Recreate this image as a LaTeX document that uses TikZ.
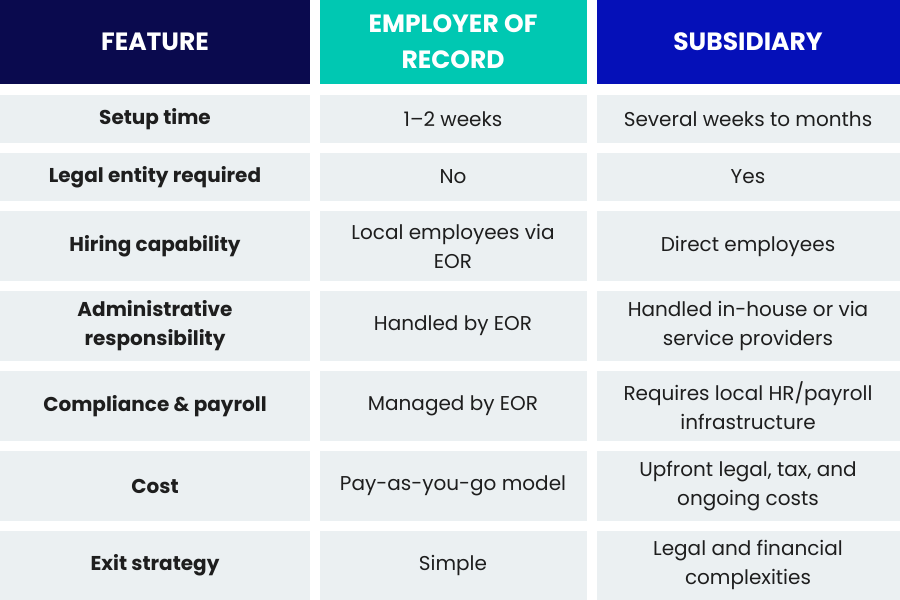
\documentclass[tikz,border=0pt]{standalone}
\usepackage{fontspec}
\setmainfont{Poppins}
\usetikzlibrary{positioning}
\definecolor{navy}{HTML}{0A0A4E}
\definecolor{teal}{HTML}{00C8B2}
\definecolor{royal}{HTML}{0510B8}
\definecolor{cellgray}{HTML}{EBF0F2}
\definecolor{ink}{HTML}{1E1E1E}

\begin{document}
\begin{tikzpicture}[x=0.5pt,y=-0.5pt,
            cell/.style={fill=cellgray,inner sep=0pt,text=ink,align=center,
              font=\fontsize{10}{14.5}\selectfont},
            feat/.style={cell,font=\fontsize{10}{14.5}\selectfont\bfseries},
            head/.style={inner sep=0pt,text=white,align=center,
              font=\fontsize{12.5}{18}\selectfont\bfseries}]
        \useasboundingbox (0,0) rectangle (900,600);

        % header
        \fill[navy] (0,0) rectangle (310,84);
        \fill[teal] (320,0) rectangle (587,84);
        \fill[royal] (597,0) rectangle (900,84);
        \node[head] (hfeat) at (155,42) {FEATURE};
        \node[head] (heor) at (453,42) {EMPLOYER OF\\RECORD};
        \node[head] (hsub) at (748,42) {SUBSIDIARY};

        % rows
        \foreach \t/\b in {95/143,153/201,211/281,291/361,371/441,451/521,531/600}{
          \fill[cellgray] (0,\t) rectangle (310,\b);
          \fill[cellgray] (320,\t) rectangle (587,\b);
          \fill[cellgray] (597,\t) rectangle (900,\b);
        }

        \node[feat] (f1) at (155,119) {Setup time};
        \node[cell] (e1) at (453,119) {1–2 weeks};
        \node[cell] (s1) at (748,119) {Several weeks to months};

        \node[feat] (f2) at (155,177) {Legal entity required};
        \node[cell] (e2) at (453,177) {No};
        \node[cell] (s2) at (748,177) {Yes};

        \node[feat] (f3) at (155,246) {Hiring capability};
        \node[cell] (e3) at (453,246) {Local employees via\\EOR};
        \node[cell] (s3) at (748,246) {Direct employees};

        \node[feat] (f4) at (155,326) {Administrative\\responsibility};
        \node[cell] (e4) at (453,326) {Handled by EOR};
        \node[cell] (s4) at (748,326) {Handled in-house or via\\service providers};

        \node[feat] (f5) at (155,406) {Compliance \& payroll};
        \node[cell] (e5) at (453,406) {Managed by EOR};
        \node[cell] (s5) at (748,406) {Requires local HR/payroll\\infrastructure};

        \node[feat] (f6) at (155,486) {Cost};
        \node[cell] (e6) at (453,486) {Pay-as-you-go model};
        \node[cell] (s6) at (748,486) {Upfront legal, tax, and\\ongoing costs};

        \node[feat] (f7) at (155,565) {Exit strategy};
        \node[cell] (e7) at (453,565) {Simple};
        \node[cell] (s7) at (748,565) {Legal and financial\\complexities};
    \end{tikzpicture}
\end{document}
